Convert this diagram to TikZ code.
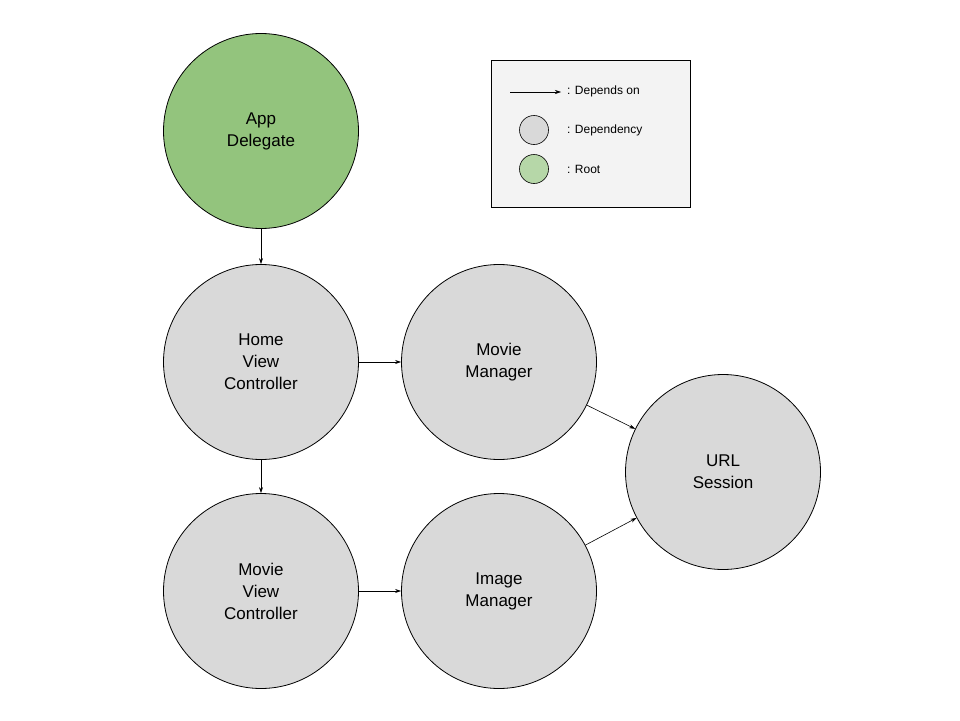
\documentclass[tikz,border=0pt]{standalone}
\usepackage{fontspec}
\setmainfont{Liberation Sans}
\usetikzlibrary{arrows.meta}
\definecolor{rootg}{HTML}{93C47D}
\definecolor{lrootg}{HTML}{B6D7A8}
\definecolor{depg}{HTML}{D9D9D9}
\definecolor{legbg}{HTML}{F3F3F3}
\begin{document}
\begin{tikzpicture}[x=1pt,y=-1pt,
  dep/.style={circle,draw=black,line width=0.8pt,fill=depg,minimum size=195pt,inner sep=0pt,align=center,font=\fontsize{17}{22}\selectfont},
  rootnode/.style={dep,fill=rootg},
  arr/.style={-{Stealth[length=6pt,width=4pt]},line width=0.6pt},
  legtxt/.style={anchor=west,font=\fontsize{12}{14}\selectfont,inner sep=0pt}]
\useasboundingbox (0,0) rectangle (960,720);
\node[rootnode] (app) at (261,131) {App\\Delegate};
\node[dep] (hvc) at (261,362) {Home\\View\\Controller};
\node[dep] (mm) at (499,362) {Movie\\Manager};
\node[dep] (url) at (723,472) {URL\\Session};
\node[dep] (mvc) at (261,591) {Movie\\View\\Controller};
\node[dep] (im) at (499,591) {Image\\Manager};
\draw[arr] (app) -- (hvc);
\draw[arr] (hvc) -- (mm);
\draw[arr] (hvc) -- (mvc);
\draw[arr] (mvc) -- (im);
\draw[arr] (mm) -- (url);
\draw[arr] (im) -- (url);
\node[draw=black,fill=legbg,line width=0.6pt,minimum width=199pt,minimum height=147pt,inner sep=0pt] (leg) at (590.5,133.5) {};
\coordinate (la) at (510,92);
\coordinate (lb) at (561,92);
\draw[arr] (la) -- (lb);
\node[legtxt] (t1) at (567,91) {: Depends on};
\node[circle,draw=black,line width=0.6pt,fill=depg,minimum size=29pt,inner sep=0pt] (c1) at (534,130) {};
\node[legtxt] (t2) at (567,130) {: Dependency};
\node[circle,draw=black,line width=0.6pt,fill=lrootg,minimum size=29pt,inner sep=0pt] (c2) at (534,169) {};
\node[legtxt] (t3) at (567,169) {: Root};
\end{tikzpicture}
\end{document}
